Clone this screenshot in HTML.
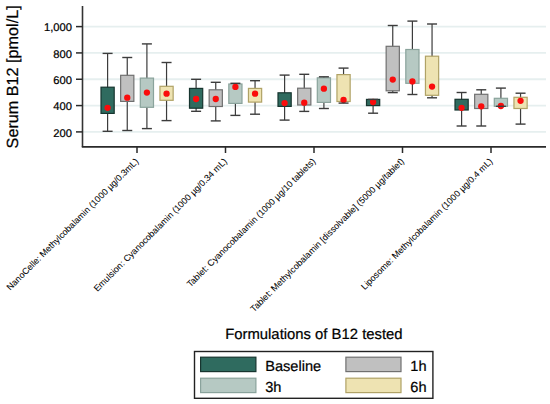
<!DOCTYPE html><html><head><meta charset="utf-8"><style>html,body{margin:0;padding:0;background:#fff;}svg{display:block;font-family:"Liberation Sans",sans-serif;text-rendering:geometricPrecision;}text{stroke:#000;stroke-width:.22px;fill:#000;}text.s{stroke-width:.05px;fill:#000;}</style></head><body>
<svg width="550" height="404" viewBox="0 0 550 404">
<rect width="550" height="404" fill="#fff"/>
<line x1="82.5" y1="131.90" x2="546" y2="131.90" stroke="#e6efef" stroke-width="1.8"/>
<line x1="82.5" y1="105.58" x2="546" y2="105.58" stroke="#e6efef" stroke-width="1.8"/>
<line x1="82.5" y1="79.25" x2="546" y2="79.25" stroke="#e6efef" stroke-width="1.8"/>
<line x1="82.5" y1="52.92" x2="546" y2="52.92" stroke="#e6efef" stroke-width="1.8"/>
<line x1="82.5" y1="26.60" x2="546" y2="26.60" stroke="#e6efef" stroke-width="1.8"/>
<line x1="107.60" y1="53.4" x2="107.60" y2="131.3" stroke="#3c3c3c" stroke-width="1.2"/>
<rect x="101.00" y="87.2" width="13.2" height="26.20" fill="#2f6b5f" stroke="#17352f" stroke-width="1.2"/>
<circle cx="107.60" cy="107.8" r="3.15" fill="#fa0c0c"/>
<line x1="102.60" y1="53.4" x2="112.60" y2="53.4" stroke="#3c3c3c" stroke-width="1.4"/>
<line x1="102.60" y1="131.3" x2="112.60" y2="131.3" stroke="#3c3c3c" stroke-width="1.4"/>
<line x1="127.25" y1="57.5" x2="127.25" y2="130.5" stroke="#3c3c3c" stroke-width="1.2"/>
<rect x="120.65" y="75.3" width="13.2" height="26.10" fill="#c0c0c0" stroke="#707070" stroke-width="1.2"/>
<circle cx="127.25" cy="97.7" r="3.15" fill="#fa0c0c"/>
<line x1="122.25" y1="57.5" x2="132.25" y2="57.5" stroke="#3c3c3c" stroke-width="1.4"/>
<line x1="122.25" y1="130.5" x2="132.25" y2="130.5" stroke="#3c3c3c" stroke-width="1.4"/>
<line x1="146.90" y1="43.9" x2="146.90" y2="128.6" stroke="#3c3c3c" stroke-width="1.2"/>
<rect x="140.30" y="78.1" width="13.2" height="29.20" fill="#b6c9c3" stroke="#8aa39c" stroke-width="1.2"/>
<circle cx="146.90" cy="92.6" r="3.15" fill="#fa0c0c"/>
<line x1="141.90" y1="43.9" x2="151.90" y2="43.9" stroke="#3c3c3c" stroke-width="1.4"/>
<line x1="141.90" y1="128.6" x2="151.90" y2="128.6" stroke="#3c3c3c" stroke-width="1.4"/>
<line x1="166.55" y1="62.5" x2="166.55" y2="120.6" stroke="#3c3c3c" stroke-width="1.2"/>
<rect x="159.95" y="86.3" width="13.2" height="14.00" fill="#eee3b2" stroke="#b0a266" stroke-width="1.2"/>
<circle cx="166.55" cy="93.7" r="3.15" fill="#fa0c0c"/>
<line x1="161.55" y1="62.5" x2="171.55" y2="62.5" stroke="#3c3c3c" stroke-width="1.4"/>
<line x1="161.55" y1="120.6" x2="171.55" y2="120.6" stroke="#3c3c3c" stroke-width="1.4"/>
<line x1="196.10" y1="79.3" x2="196.10" y2="111.3" stroke="#3c3c3c" stroke-width="1.2"/>
<rect x="189.50" y="88.4" width="13.2" height="19.80" fill="#2f6b5f" stroke="#17352f" stroke-width="1.2"/>
<circle cx="196.10" cy="99" r="3.15" fill="#fa0c0c"/>
<line x1="191.10" y1="79.3" x2="201.10" y2="79.3" stroke="#3c3c3c" stroke-width="1.4"/>
<line x1="191.10" y1="111.3" x2="201.10" y2="111.3" stroke="#3c3c3c" stroke-width="1.4"/>
<line x1="215.75" y1="82.3" x2="215.75" y2="120.9" stroke="#3c3c3c" stroke-width="1.2"/>
<rect x="209.15" y="89.8" width="13.2" height="16.70" fill="#c0c0c0" stroke="#707070" stroke-width="1.2"/>
<circle cx="215.75" cy="99" r="3.15" fill="#fa0c0c"/>
<line x1="210.75" y1="82.3" x2="220.75" y2="82.3" stroke="#3c3c3c" stroke-width="1.4"/>
<line x1="210.75" y1="120.9" x2="220.75" y2="120.9" stroke="#3c3c3c" stroke-width="1.4"/>
<line x1="235.40" y1="83.3" x2="235.40" y2="115.4" stroke="#3c3c3c" stroke-width="1.2"/>
<rect x="228.80" y="84" width="13.2" height="19.40" fill="#b6c9c3" stroke="#8aa39c" stroke-width="1.2"/>
<circle cx="235.40" cy="86.9" r="3.15" fill="#fa0c0c"/>
<line x1="230.40" y1="83.3" x2="240.40" y2="83.3" stroke="#3c3c3c" stroke-width="1.4"/>
<line x1="230.40" y1="115.4" x2="240.40" y2="115.4" stroke="#3c3c3c" stroke-width="1.4"/>
<line x1="255.05" y1="80.7" x2="255.05" y2="114.2" stroke="#3c3c3c" stroke-width="1.2"/>
<rect x="248.45" y="88.4" width="13.2" height="13.70" fill="#eee3b2" stroke="#b0a266" stroke-width="1.2"/>
<circle cx="255.05" cy="93.7" r="3.15" fill="#fa0c0c"/>
<line x1="250.05" y1="80.7" x2="260.05" y2="80.7" stroke="#3c3c3c" stroke-width="1.4"/>
<line x1="250.05" y1="114.2" x2="260.05" y2="114.2" stroke="#3c3c3c" stroke-width="1.4"/>
<line x1="284.60" y1="75.1" x2="284.60" y2="120.1" stroke="#3c3c3c" stroke-width="1.2"/>
<rect x="278.00" y="92.8" width="13.2" height="13.60" fill="#2f6b5f" stroke="#17352f" stroke-width="1.2"/>
<circle cx="284.60" cy="103.1" r="3.15" fill="#fa0c0c"/>
<line x1="279.60" y1="75.1" x2="289.60" y2="75.1" stroke="#3c3c3c" stroke-width="1.4"/>
<line x1="279.60" y1="120.1" x2="289.60" y2="120.1" stroke="#3c3c3c" stroke-width="1.4"/>
<line x1="304.25" y1="74.3" x2="304.25" y2="111.4" stroke="#3c3c3c" stroke-width="1.2"/>
<rect x="297.65" y="88.2" width="13.2" height="16.80" fill="#c0c0c0" stroke="#707070" stroke-width="1.2"/>
<circle cx="304.25" cy="102.7" r="3.15" fill="#fa0c0c"/>
<line x1="299.25" y1="74.3" x2="309.25" y2="74.3" stroke="#3c3c3c" stroke-width="1.4"/>
<line x1="299.25" y1="111.4" x2="309.25" y2="111.4" stroke="#3c3c3c" stroke-width="1.4"/>
<line x1="323.90" y1="76.8" x2="323.90" y2="108.5" stroke="#3c3c3c" stroke-width="1.2"/>
<rect x="317.30" y="77.8" width="13.2" height="24.60" fill="#b6c9c3" stroke="#8aa39c" stroke-width="1.2"/>
<circle cx="323.90" cy="88.7" r="3.15" fill="#fa0c0c"/>
<line x1="318.90" y1="76.8" x2="328.90" y2="76.8" stroke="#3c3c3c" stroke-width="1.4"/>
<line x1="318.90" y1="108.5" x2="328.90" y2="108.5" stroke="#3c3c3c" stroke-width="1.4"/>
<line x1="343.55" y1="68.1" x2="343.55" y2="103.1" stroke="#3c3c3c" stroke-width="1.2"/>
<rect x="336.95" y="74.6" width="13.2" height="26.90" fill="#eee3b2" stroke="#b0a266" stroke-width="1.2"/>
<circle cx="343.55" cy="100" r="3.15" fill="#fa0c0c"/>
<line x1="338.55" y1="68.1" x2="348.55" y2="68.1" stroke="#3c3c3c" stroke-width="1.4"/>
<line x1="338.55" y1="103.1" x2="348.55" y2="103.1" stroke="#3c3c3c" stroke-width="1.4"/>
<line x1="373.10" y1="99.4" x2="373.10" y2="113.2" stroke="#3c3c3c" stroke-width="1.2"/>
<rect x="366.50" y="99.4" width="13.2" height="6.20" fill="#2f6b5f" stroke="#17352f" stroke-width="1.2"/>
<circle cx="373.10" cy="102" r="3.15" fill="#fa0c0c"/>
<line x1="368.10" y1="99.4" x2="378.10" y2="99.4" stroke="#3c3c3c" stroke-width="1.4"/>
<line x1="368.10" y1="113.2" x2="378.10" y2="113.2" stroke="#3c3c3c" stroke-width="1.4"/>
<line x1="392.75" y1="25.5" x2="392.75" y2="92.6" stroke="#3c3c3c" stroke-width="1.2"/>
<rect x="386.15" y="46.3" width="13.2" height="44.50" fill="#c0c0c0" stroke="#707070" stroke-width="1.2"/>
<circle cx="392.75" cy="79.6" r="3.15" fill="#fa0c0c"/>
<line x1="387.75" y1="25.5" x2="397.75" y2="25.5" stroke="#3c3c3c" stroke-width="1.4"/>
<line x1="387.75" y1="92.6" x2="397.75" y2="92.6" stroke="#3c3c3c" stroke-width="1.4"/>
<line x1="412.40" y1="21.1" x2="412.40" y2="94.5" stroke="#3c3c3c" stroke-width="1.2"/>
<rect x="405.80" y="49.5" width="13.2" height="33.80" fill="#b6c9c3" stroke="#8aa39c" stroke-width="1.2"/>
<circle cx="412.40" cy="81.4" r="3.15" fill="#fa0c0c"/>
<line x1="407.40" y1="21.1" x2="417.40" y2="21.1" stroke="#3c3c3c" stroke-width="1.4"/>
<line x1="407.40" y1="94.5" x2="417.40" y2="94.5" stroke="#3c3c3c" stroke-width="1.4"/>
<line x1="432.05" y1="24" x2="432.05" y2="97.8" stroke="#3c3c3c" stroke-width="1.2"/>
<rect x="425.45" y="56.2" width="13.2" height="39.10" fill="#eee3b2" stroke="#b0a266" stroke-width="1.2"/>
<circle cx="432.05" cy="86.6" r="3.15" fill="#fa0c0c"/>
<line x1="427.05" y1="24" x2="437.05" y2="24" stroke="#3c3c3c" stroke-width="1.4"/>
<line x1="427.05" y1="97.8" x2="437.05" y2="97.8" stroke="#3c3c3c" stroke-width="1.4"/>
<line x1="461.60" y1="92.5" x2="461.60" y2="126" stroke="#3c3c3c" stroke-width="1.2"/>
<rect x="455.00" y="99.3" width="13.2" height="10.70" fill="#2f6b5f" stroke="#17352f" stroke-width="1.2"/>
<circle cx="461.60" cy="107.8" r="3.15" fill="#fa0c0c"/>
<line x1="456.60" y1="92.5" x2="466.60" y2="92.5" stroke="#3c3c3c" stroke-width="1.4"/>
<line x1="456.60" y1="126" x2="466.60" y2="126" stroke="#3c3c3c" stroke-width="1.4"/>
<line x1="481.25" y1="89.8" x2="481.25" y2="126" stroke="#3c3c3c" stroke-width="1.2"/>
<rect x="474.65" y="94.3" width="13.2" height="14.20" fill="#c0c0c0" stroke="#707070" stroke-width="1.2"/>
<circle cx="481.25" cy="106.3" r="3.15" fill="#fa0c0c"/>
<line x1="476.25" y1="89.8" x2="486.25" y2="89.8" stroke="#3c3c3c" stroke-width="1.4"/>
<line x1="476.25" y1="126" x2="486.25" y2="126" stroke="#3c3c3c" stroke-width="1.4"/>
<line x1="500.90" y1="88.1" x2="500.90" y2="106.3" stroke="#3c3c3c" stroke-width="1.2"/>
<rect x="494.30" y="98.3" width="13.2" height="8.00" fill="#b6c9c3" stroke="#8aa39c" stroke-width="1.2"/>
<circle cx="500.90" cy="106" r="3.15" fill="#fa0c0c"/>
<line x1="495.90" y1="88.1" x2="505.90" y2="88.1" stroke="#3c3c3c" stroke-width="1.4"/>
<line x1="495.90" y1="106.3" x2="505.90" y2="106.3" stroke="#3c3c3c" stroke-width="1.4"/>
<line x1="520.55" y1="93.2" x2="520.55" y2="124.1" stroke="#3c3c3c" stroke-width="1.2"/>
<rect x="513.95" y="97.3" width="13.2" height="11.20" fill="#eee3b2" stroke="#b0a266" stroke-width="1.2"/>
<circle cx="520.55" cy="100.8" r="3.15" fill="#fa0c0c"/>
<line x1="515.55" y1="93.2" x2="525.55" y2="93.2" stroke="#3c3c3c" stroke-width="1.4"/>
<line x1="515.55" y1="124.1" x2="525.55" y2="124.1" stroke="#3c3c3c" stroke-width="1.4"/>
<line x1="82.5" y1="6" x2="82.5" y2="146.9" stroke="#333" stroke-width="1.6"/>
<line x1="81.8" y1="146.9" x2="546" y2="146.9" stroke="#2a2a2a" stroke-width="1.8"/>
<line x1="76" y1="131.90" x2="82.5" y2="131.90" stroke="#2a2a2a" stroke-width="1.5"/>
<text x="72" y="136.55" font-size="11.2" text-anchor="end" fill="#111">200</text>
<line x1="76" y1="105.58" x2="82.5" y2="105.58" stroke="#2a2a2a" stroke-width="1.5"/>
<text x="72" y="110.23" font-size="11.2" text-anchor="end" fill="#111">400</text>
<line x1="76" y1="79.25" x2="82.5" y2="79.25" stroke="#2a2a2a" stroke-width="1.5"/>
<text x="72" y="83.90" font-size="11.2" text-anchor="end" fill="#111">600</text>
<line x1="76" y1="52.92" x2="82.5" y2="52.92" stroke="#2a2a2a" stroke-width="1.5"/>
<text x="72" y="57.57" font-size="11.2" text-anchor="end" fill="#111">800</text>
<line x1="76" y1="26.60" x2="82.5" y2="26.60" stroke="#2a2a2a" stroke-width="1.5"/>
<text x="72" y="31.25" font-size="11.2" text-anchor="end" fill="#111">1,000</text>
<line x1="137.00" y1="146.9" x2="137.00" y2="153" stroke="#2a2a2a" stroke-width="1.5"/>
<text transform="translate(139.00,162.0) rotate(-45)" class="s" font-size="8.95" text-anchor="end" fill="#111">NanoCelle: Methylcobalamin (1000 µg/0.3mL)</text>
<line x1="225.50" y1="146.9" x2="225.50" y2="153" stroke="#2a2a2a" stroke-width="1.5"/>
<text transform="translate(227.50,162.0) rotate(-45)" class="s" font-size="8.95" text-anchor="end" fill="#111">Emulsion: Cyanocobalamin (1000 µg/0.34 mL)</text>
<line x1="314.00" y1="146.9" x2="314.00" y2="153" stroke="#2a2a2a" stroke-width="1.5"/>
<text transform="translate(316.00,162.0) rotate(-45)" class="s" font-size="8.95" text-anchor="end" fill="#111">Tablet: Cyanocobalamin (1000 µg/10 tablets)</text>
<line x1="402.50" y1="146.9" x2="402.50" y2="153" stroke="#2a2a2a" stroke-width="1.5"/>
<text transform="translate(404.50,162.0) rotate(-45)" class="s" font-size="8.95" text-anchor="end" fill="#111">Tablet: Methylcobalamin [dissolvable] (5000 µg/tablet)</text>
<line x1="491.00" y1="146.9" x2="491.00" y2="153" stroke="#2a2a2a" stroke-width="1.5"/>
<text transform="translate(493.00,162.0) rotate(-45)" class="s" font-size="8.95" text-anchor="end" fill="#111">Liposome: Methylcobalamin (1000 µg/0.4 mL)</text>
<text transform="translate(18.4,148.4) rotate(-90)" font-size="16.2" fill="#111">Serum B12 [pmol/L]</text>
<text x="225.2" y="339.2" font-size="14.85" fill="#111">Formulations of B12 tested</text>
<rect x="194.5" y="351.5" width="238.4" height="46.8" fill="#fff" stroke="#222" stroke-width="1.4"/>
<rect x="200.6" y="357.2" width="55.3" height="14.4" fill="#2f6b5f" stroke="#17352f" stroke-width="1.2"/>
<rect x="200.6" y="378.2" width="55.3" height="14.4" fill="#b6c9c3" stroke="#8aa39c" stroke-width="1.2"/>
<rect x="345.9" y="357.2" width="55.1" height="14.4" fill="#c0c0c0" stroke="#707070" stroke-width="1.2"/>
<rect x="345.9" y="378.2" width="55.1" height="14.4" fill="#eee3b2" stroke="#b0a266" stroke-width="1.2"/>
<text x="265.2" y="370.7" font-size="14.6" fill="#111">Baseline</text>
<text x="265.2" y="391.5" font-size="14.6" fill="#111">3h</text>
<text x="426.6" y="370.7" font-size="14.6" text-anchor="end" fill="#111">1h</text>
<text x="426.6" y="391.5" font-size="14.6" text-anchor="end" fill="#111">6h</text>
</svg></body></html>
